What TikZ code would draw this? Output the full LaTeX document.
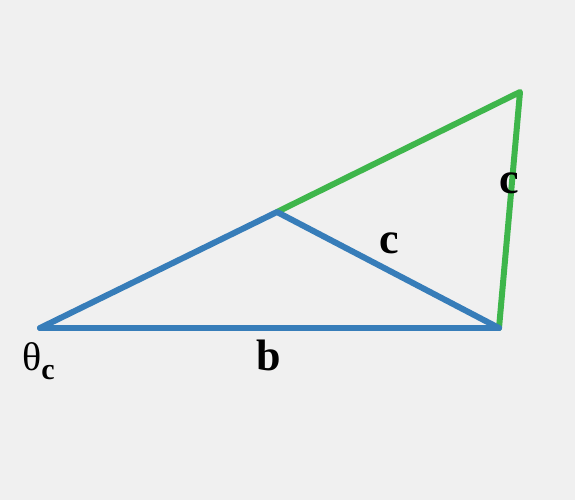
\documentclass[tikz,border=0pt]{standalone}
\usepackage{fontspec}
\setmainfont{Liberation Serif}
\usepackage{tikz}
\definecolor{sideblue}{RGB}{55,125,185}
\definecolor{sidegreen}{RGB}{62,182,75}
\definecolor{bgray}{RGB}{240,240,240}
\tikzstyle{blueside} = [line width=6pt, draw=sideblue, line cap=round, line join=round]
\tikzstyle{greenside} = [line width=6pt, draw=sidegreen, line cap=round, line join=round]
\tikzstyle{sidelabel} = [inner sep=0pt, font=\fontsize{44}{50}\selectfont\bfseries]
\tikzstyle{anglelabel} = [inner sep=0pt, anchor=base west, font=\fontsize{40}{46}\selectfont]

\begin{document}
\begin{tikzpicture}[x=1pt, y=-1pt]
    \fill [bgray] (0,0) rectangle (575,500);
    \useasboundingbox (0,0) rectangle (575,500);
    \coordinate (ptA) at (40,328);
    \coordinate (ptB) at (499,328);
    \coordinate (ptC) at (277,212);
    \coordinate (ptD) at (520,92);

    \draw [greenside] (ptC) -- (ptD) -- (ptB);
    \draw [blueside] (ptA) -- (ptB);
    \draw [blueside] (ptA) -- (ptC) -- (ptB);

    \node [anglelabel] (theta) at (22,370) {θ\raisebox{-9pt}{\fontsize{30}{30}\selectfont\bfseries c}};
    \node [sidelabel, anchor=base] (lblb) at (269,370) {b};
    \node [sidelabel, anchor=base] (lblc) at (389,253) {c};
    \node [sidelabel, anchor=base] (lblc2) at (509,193) {c};
\end{tikzpicture}
\end{document}
